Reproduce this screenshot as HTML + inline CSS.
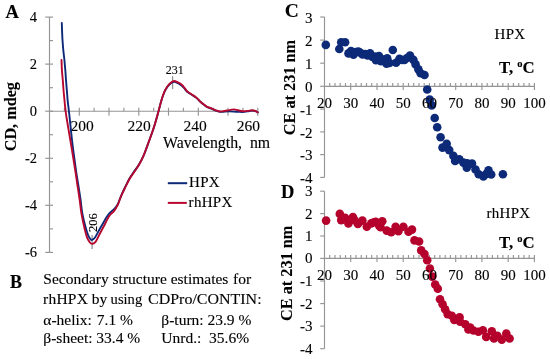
<!DOCTYPE html>
<html><head><meta charset="utf-8"><title>Figure</title>
<style>
html,body{margin:0;padding:0;background:#fff;}
body{width:550px;height:359px;overflow:hidden;}
svg{display:block;}
text{font-family:"Liberation Serif", "Times New Roman", serif;fill:#000;stroke:#000;stroke-width:0.12px;}
.t15{font-size:15px;}
.t155{font-size:15.5px;}
.t14{font-size:14px;}
.t13{font-size:13px;}
.t12{font-size:12.5px;}
.t12b{font-size:12px;}
.b15{font-size:15px;font-weight:bold;}
.b16{font-size:16px;font-weight:bold;}
.b165{font-size:16.5px;font-weight:bold;}
.b175{font-size:17.5px;font-weight:bold;}
.b19{font-size:18.5px;font-weight:bold;}
.b185{font-size:18.5px;font-weight:bold;}
.b195{font-size:19.5px;font-weight:bold;}
.b18{font-size:18px;font-weight:bold;}
.b17{font-size:17px;font-weight:bold;}
.b163{font-size:16.3px;font-weight:bold;}
.t16{font-size:16px;}
.t145{font-size:14.5px;}
.b157{font-size:15.7px;font-weight:bold;}
.t158{font-size:15.8px;}
.b162{font-size:16.2px;font-weight:bold;}
.sup{font-size:10.5px;}
.b168{font-size:16.8px;font-weight:bold;}
</style></head>
<body>
<svg width="550" height="359" viewBox="0 0 550 359">
<rect width="550" height="359" fill="#fff"/>
<line x1="49.5" y1="17.1" x2="49.5" y2="252.4" stroke="#959595" stroke-width="1.15"/>
<line x1="45.2" y1="252.4" x2="53.0" y2="252.4" stroke="#959595" stroke-width="1.15"/>
<text x="37.1" y="257.1" text-anchor="end" class="t145">-6</text>
<line x1="49.5" y1="228.9" x2="53.0" y2="228.9" stroke="#959595" stroke-width="1.15"/>
<line x1="45.2" y1="205.3" x2="53.0" y2="205.3" stroke="#959595" stroke-width="1.15"/>
<text x="37.1" y="210.0" text-anchor="end" class="t145">-4</text>
<line x1="49.5" y1="181.8" x2="53.0" y2="181.8" stroke="#959595" stroke-width="1.15"/>
<line x1="45.2" y1="158.3" x2="53.0" y2="158.3" stroke="#959595" stroke-width="1.15"/>
<text x="37.1" y="163.0" text-anchor="end" class="t145">-2</text>
<line x1="49.5" y1="134.7" x2="53.0" y2="134.7" stroke="#959595" stroke-width="1.15"/>
<line x1="45.2" y1="111.2" x2="53.0" y2="111.2" stroke="#959595" stroke-width="1.15"/>
<text x="37.1" y="115.9" text-anchor="end" class="t145">0</text>
<line x1="49.5" y1="87.7" x2="53.0" y2="87.7" stroke="#959595" stroke-width="1.15"/>
<line x1="45.2" y1="64.1" x2="53.0" y2="64.1" stroke="#959595" stroke-width="1.15"/>
<text x="37.1" y="68.8" text-anchor="end" class="t145">2</text>
<line x1="49.5" y1="40.6" x2="53.0" y2="40.6" stroke="#959595" stroke-width="1.15"/>
<line x1="45.2" y1="17.1" x2="53.0" y2="17.1" stroke="#959595" stroke-width="1.15"/>
<text x="37.1" y="21.8" text-anchor="end" class="t145">4</text>
<line x1="49.5" y1="111.2" x2="257.8" y2="111.2" stroke="#959595" stroke-width="1.15"/>
<line x1="64.4" y1="107.7" x2="64.4" y2="111.2" stroke="#959595" stroke-width="1.15"/>
<line x1="79.3" y1="107.7" x2="79.3" y2="115.7" stroke="#959595" stroke-width="1.15"/>
<line x1="94.1" y1="107.7" x2="94.1" y2="111.2" stroke="#959595" stroke-width="1.15"/>
<line x1="109.0" y1="107.7" x2="109.0" y2="115.7" stroke="#959595" stroke-width="1.15"/>
<line x1="123.9" y1="107.7" x2="123.9" y2="111.2" stroke="#959595" stroke-width="1.15"/>
<line x1="138.8" y1="107.7" x2="138.8" y2="115.7" stroke="#959595" stroke-width="1.15"/>
<line x1="153.7" y1="107.7" x2="153.7" y2="111.2" stroke="#959595" stroke-width="1.15"/>
<line x1="168.5" y1="107.7" x2="168.5" y2="115.7" stroke="#959595" stroke-width="1.15"/>
<line x1="183.4" y1="107.7" x2="183.4" y2="111.2" stroke="#959595" stroke-width="1.15"/>
<line x1="198.3" y1="107.7" x2="198.3" y2="115.7" stroke="#959595" stroke-width="1.15"/>
<line x1="213.2" y1="107.7" x2="213.2" y2="111.2" stroke="#959595" stroke-width="1.15"/>
<line x1="228.0" y1="107.7" x2="228.0" y2="115.7" stroke="#959595" stroke-width="1.15"/>
<line x1="242.9" y1="107.7" x2="242.9" y2="111.2" stroke="#959595" stroke-width="1.15"/>
<line x1="257.8" y1="107.7" x2="257.8" y2="115.7" stroke="#959595" stroke-width="1.15"/>
<text x="82.1" y="131.3" text-anchor="middle" class="t155">200</text>
<text x="139.1" y="131.3" text-anchor="middle" class="t155">220</text>
<text x="195.2" y="131.3" text-anchor="middle" class="t155">240</text>
<text x="248.3" y="131.3" text-anchor="middle" class="t155">260</text>
<text x="163" y="147.7" class="t158">Wavelength,&#160; nm</text>
<text transform="translate(15.6,151.3) rotate(-90)" class="b162">CD, mdeg</text>
<text x="5.5" y="18" class="b19">A</text>
<line x1="172.6" y1="76.1" x2="172.6" y2="89.1" stroke="#959595" stroke-width="1.3"/>
<text x="174.7" y="73.9" text-anchor="middle" class="t12b">231</text>
<line x1="92.1" y1="235" x2="92.1" y2="249" stroke="#959595" stroke-width="1.3"/>
<text transform="translate(96.7,232.0) rotate(-90)" class="t12">206</text>
<path d="M61.8,23.0 C61.9,25.8 62.2,35.5 62.5,40.0 C62.8,44.5 63.0,46.7 63.3,50.0 C63.6,53.3 64.1,56.7 64.4,60.0 C64.7,63.3 65.0,66.7 65.3,70.0 C65.6,73.3 65.7,76.3 66.0,80.0 C66.3,83.7 66.7,88.7 67.0,92.0 C67.3,95.3 67.3,96.8 67.6,100.0 C67.9,103.2 68.4,106.8 68.9,111.0 C69.4,115.2 69.9,120.2 70.4,125.0 C70.9,129.8 71.4,135.0 72.0,140.0 C72.6,145.0 73.2,150.0 73.9,155.0 C74.6,160.0 75.2,165.0 75.9,170.0 C76.6,175.0 77.5,180.0 78.3,185.0 C79.1,190.0 79.9,195.2 80.6,200.0 C81.3,204.8 81.5,209.3 82.4,214.0 C83.3,218.7 84.8,224.4 85.8,228.0 C86.8,231.6 87.6,234.0 88.4,235.8 C89.2,237.6 89.8,238.3 90.4,239.0 C91.0,239.7 91.3,240.1 92.0,239.9 C92.7,239.7 93.6,239.5 94.8,237.8 C96.0,236.2 97.8,232.4 99.2,230.0 C100.6,227.6 101.7,225.6 102.9,223.5 C104.1,221.4 105.3,219.1 106.5,217.3 C107.7,215.5 108.8,214.0 110.0,212.7 C111.2,211.4 112.8,210.4 113.8,209.4 C114.8,208.4 115.6,207.5 116.3,206.5 C117.0,205.5 117.4,205.1 118.2,203.3 C119.0,201.5 120.1,198.2 121.2,195.6 C122.3,193.0 123.3,190.8 124.7,188.0 C126.1,185.2 127.9,181.3 129.5,178.5 C131.1,175.7 132.6,173.7 134.2,171.4 C135.8,169.1 137.4,167.2 139.0,164.5 C140.6,161.8 142.3,158.4 143.7,155.3 C145.1,152.2 146.1,149.0 147.3,145.8 C148.5,142.6 149.6,139.7 150.8,136.3 C152.0,133.0 153.2,129.5 154.4,125.7 C155.6,121.9 156.8,117.5 157.9,113.5 C159.0,109.5 160.1,105.1 161.1,101.6 C162.1,98.1 163.2,94.9 164.2,92.5 C165.2,90.1 166.2,88.6 167.3,87.0 C168.5,85.4 169.9,84.0 171.1,83.1 C172.2,82.2 173.0,81.7 174.2,81.7 C175.3,81.7 176.7,82.5 178.0,83.2 C179.3,83.9 180.7,84.8 181.8,85.8 C183.0,86.8 184.0,88.0 184.9,89.0 C185.8,90.0 186.0,90.8 187.2,91.8 C188.3,92.8 190.3,93.8 191.8,94.8 C193.3,95.8 194.9,96.6 196.4,97.9 C197.9,99.2 199.8,101.3 201.0,102.4 C202.2,103.5 202.4,103.5 203.4,104.3 C204.4,105.0 205.5,106.2 206.8,106.9 C208.1,107.6 209.8,108.0 211.3,108.6 C212.8,109.2 214.3,110.0 215.8,110.5 C217.3,111.0 218.8,111.6 220.3,111.8 C221.8,112.0 223.3,111.7 224.8,111.6 C226.3,111.5 227.8,111.4 229.3,111.4 C230.8,111.4 232.3,111.5 233.8,111.6 C235.3,111.7 236.8,111.7 238.3,111.8 C239.8,111.9 241.3,112.1 242.8,112.0 C244.3,111.9 245.9,111.6 247.4,111.4 C248.9,111.2 250.6,110.7 251.9,110.6 C253.2,110.5 254.2,110.7 255.2,111.0 C256.2,111.3 257.3,112.1 257.7,112.3" fill="none" stroke="#0c2a78" stroke-width="1.9" stroke-linejoin="round" stroke-linecap="round"/>
<path d="M61.5,60.0 C61.6,61.7 61.7,66.7 61.9,70.0 C62.1,73.3 62.5,76.3 62.8,80.0 C63.1,83.7 63.2,86.8 63.7,92.0 C64.2,97.2 65.0,106.0 65.6,111.0 C66.2,116.0 66.8,118.7 67.3,122.0 C67.8,125.3 68.3,128.0 68.8,131.0 C69.3,134.0 69.6,136.0 70.3,140.0 C71.0,144.0 72.0,150.0 72.8,155.0 C73.6,160.0 74.4,165.0 75.2,170.0 C76.0,175.0 76.7,180.0 77.4,185.0 C78.2,190.0 79.0,195.2 79.7,200.0 C80.4,204.8 80.7,209.2 81.5,213.9 C82.3,218.6 83.5,224.0 84.4,227.9 C85.3,231.8 86.2,235.2 87.1,237.6 C88.0,240.0 89.1,241.4 89.9,242.5 C90.7,243.6 91.1,244.0 92.0,243.9 C92.9,243.8 94.2,243.5 95.5,241.8 C96.8,240.2 98.3,236.6 99.7,234.0 C101.1,231.4 102.6,228.6 103.8,226.3 C105.0,224.0 105.9,222.0 106.9,220.1 C107.9,218.2 108.8,216.5 110.0,215.0 C111.2,213.5 112.8,212.6 113.8,211.3 C114.8,210.1 115.6,208.8 116.3,207.5 C117.0,206.2 117.4,205.7 118.2,203.8 C119.0,201.9 120.1,198.6 121.2,196.0 C122.3,193.4 123.3,191.3 124.7,188.5 C126.1,185.7 127.9,181.8 129.5,179.0 C131.1,176.2 132.6,174.3 134.2,171.9 C135.8,169.5 137.4,167.6 139.0,164.8 C140.6,162.0 142.3,158.5 143.7,155.3 C145.1,152.1 146.1,149.0 147.3,145.8 C148.5,142.6 149.6,139.7 150.8,136.3 C152.0,133.0 153.2,129.5 154.4,125.7 C155.6,121.9 156.8,117.5 157.9,113.5 C159.0,109.5 160.1,105.0 161.1,101.4 C162.1,97.9 163.2,94.7 164.2,92.2 C165.2,89.7 166.2,88.1 167.3,86.5 C168.5,84.9 169.9,83.4 171.1,82.5 C172.2,81.6 173.0,81.0 174.2,81.0 C175.3,81.0 176.7,81.8 178.0,82.4 C179.3,83.0 180.7,83.8 181.8,84.8 C183.0,85.8 184.0,87.3 184.9,88.4 C185.8,89.5 186.0,90.4 187.2,91.4 C188.3,92.4 190.3,93.5 191.8,94.5 C193.3,95.5 194.9,96.3 196.4,97.6 C197.9,98.9 199.8,101.1 201.0,102.2 C202.2,103.3 202.4,103.3 203.4,104.1 C204.4,104.8 205.5,106.0 206.8,106.7 C208.1,107.4 209.8,107.8 211.3,108.4 C212.8,109.0 214.3,109.8 215.8,110.3 C217.3,110.8 218.8,111.5 220.3,111.6 C221.8,111.7 223.3,111.2 224.8,110.9 C226.3,110.7 227.8,110.3 229.3,110.1 C230.8,109.8 232.3,109.4 233.8,109.4 C235.3,109.4 236.8,110.0 238.3,110.3 C239.8,110.6 241.3,111.1 242.8,111.2 C244.3,111.3 245.9,111.1 247.4,110.9 C248.9,110.8 250.6,110.3 251.9,110.3 C253.2,110.3 254.2,110.6 255.2,110.9 C256.2,111.2 257.3,112.1 257.7,112.3" fill="none" stroke="#b8072f" stroke-width="1.9" stroke-linejoin="round" stroke-linecap="round"/>
<line x1="167.8" y1="183.2" x2="187.2" y2="183.2" stroke="#0c2a78" stroke-width="2"/>
<line x1="167.8" y1="202.9" x2="186.8" y2="202.9" stroke="#b8072f" stroke-width="2"/>
<text x="189.0" y="186.8" class="t15" letter-spacing="0.3">HPX</text>
<text x="188.6" y="206.5" class="t15" letter-spacing="0.3">rhHPX</text>
<text x="10" y="287.5" class="b18">B</text>
<text x="43.3" y="283.9" class="t155">Secondary structure estimates</text>
<text x="233.1" y="283.9" class="t155">for</text>
<text x="43.0" y="303.6" class="t155" letter-spacing="0.25">rhHPX</text>
<text x="91.8" y="303.6" class="t155">by</text>
<text x="110.6" y="303.6" class="t155" textLength="31.6" lengthAdjust="spacingAndGlyphs">using</text>
<text x="148.0" y="303.6" class="t155" textLength="113.6" lengthAdjust="spacingAndGlyphs">CDPro/CONTIN:</text>
<text x="43.3" y="325.0" class="t155">&#945;-helix:</text>
<text x="96.8" y="325.0" class="t155">7.1 %</text>
<text x="43.3" y="343.4" class="t155">&#946;-sheet: 33.4 %</text>
<text x="161.3" y="325.0" class="t155">&#946;-turn: 23.9 %</text>
<text x="161.3" y="343.4" class="t155">Unrd.:&#160; 35.6%</text>
<line x1="324.5" y1="17.0" x2="324.5" y2="177.4" stroke="#959595" stroke-width="1.15"/>
<line x1="320.2" y1="17.0" x2="324.5" y2="17.0" stroke="#959595" stroke-width="1.15"/>
<text x="312.5" y="22.6" text-anchor="end" class="t15">3</text>
<line x1="320.2" y1="40.1" x2="324.5" y2="40.1" stroke="#959595" stroke-width="1.15"/>
<text x="312.5" y="45.7" text-anchor="end" class="t15">2</text>
<line x1="320.2" y1="63.2" x2="324.5" y2="63.2" stroke="#959595" stroke-width="1.15"/>
<text x="312.5" y="68.8" text-anchor="end" class="t15">1</text>
<line x1="320.2" y1="86.3" x2="324.5" y2="86.3" stroke="#959595" stroke-width="1.15"/>
<text x="312.5" y="91.9" text-anchor="end" class="t15">0</text>
<line x1="320.2" y1="109.1" x2="324.5" y2="109.1" stroke="#959595" stroke-width="1.15"/>
<text x="312.5" y="114.7" text-anchor="end" class="t15">-1</text>
<line x1="320.2" y1="131.9" x2="324.5" y2="131.9" stroke="#959595" stroke-width="1.15"/>
<text x="312.5" y="137.5" text-anchor="end" class="t15">-2</text>
<line x1="320.2" y1="154.6" x2="324.5" y2="154.6" stroke="#959595" stroke-width="1.15"/>
<text x="312.5" y="160.2" text-anchor="end" class="t15">-3</text>
<line x1="320.2" y1="177.4" x2="324.5" y2="177.4" stroke="#959595" stroke-width="1.15"/>
<text x="312.5" y="183.0" text-anchor="end" class="t15">-4</text>
<line x1="324.5" y1="86.3" x2="534.4" y2="86.3" stroke="#959595" stroke-width="1.15"/>
<line x1="329.7" y1="83.0" x2="329.7" y2="86.3" stroke="#959595" stroke-width="1.15"/>
<line x1="335.0" y1="83.0" x2="335.0" y2="86.3" stroke="#959595" stroke-width="1.15"/>
<line x1="340.2" y1="83.0" x2="340.2" y2="86.3" stroke="#959595" stroke-width="1.15"/>
<line x1="345.5" y1="83.0" x2="345.5" y2="86.3" stroke="#959595" stroke-width="1.15"/>
<line x1="350.7" y1="83.0" x2="350.7" y2="89.9" stroke="#959595" stroke-width="1.15"/>
<line x1="356.0" y1="83.0" x2="356.0" y2="86.3" stroke="#959595" stroke-width="1.15"/>
<line x1="361.2" y1="83.0" x2="361.2" y2="86.3" stroke="#959595" stroke-width="1.15"/>
<line x1="366.5" y1="83.0" x2="366.5" y2="86.3" stroke="#959595" stroke-width="1.15"/>
<line x1="371.7" y1="83.0" x2="371.7" y2="86.3" stroke="#959595" stroke-width="1.15"/>
<line x1="377.0" y1="83.0" x2="377.0" y2="89.9" stroke="#959595" stroke-width="1.15"/>
<line x1="382.2" y1="83.0" x2="382.2" y2="86.3" stroke="#959595" stroke-width="1.15"/>
<line x1="387.5" y1="83.0" x2="387.5" y2="86.3" stroke="#959595" stroke-width="1.15"/>
<line x1="392.7" y1="83.0" x2="392.7" y2="86.3" stroke="#959595" stroke-width="1.15"/>
<line x1="398.0" y1="83.0" x2="398.0" y2="86.3" stroke="#959595" stroke-width="1.15"/>
<line x1="403.2" y1="83.0" x2="403.2" y2="89.9" stroke="#959595" stroke-width="1.15"/>
<line x1="408.5" y1="83.0" x2="408.5" y2="86.3" stroke="#959595" stroke-width="1.15"/>
<line x1="413.7" y1="83.0" x2="413.7" y2="86.3" stroke="#959595" stroke-width="1.15"/>
<line x1="419.0" y1="83.0" x2="419.0" y2="86.3" stroke="#959595" stroke-width="1.15"/>
<line x1="424.2" y1="83.0" x2="424.2" y2="86.3" stroke="#959595" stroke-width="1.15"/>
<line x1="429.4" y1="83.0" x2="429.4" y2="89.9" stroke="#959595" stroke-width="1.15"/>
<line x1="434.7" y1="83.0" x2="434.7" y2="86.3" stroke="#959595" stroke-width="1.15"/>
<line x1="439.9" y1="83.0" x2="439.9" y2="86.3" stroke="#959595" stroke-width="1.15"/>
<line x1="445.2" y1="83.0" x2="445.2" y2="86.3" stroke="#959595" stroke-width="1.15"/>
<line x1="450.4" y1="83.0" x2="450.4" y2="86.3" stroke="#959595" stroke-width="1.15"/>
<line x1="455.7" y1="83.0" x2="455.7" y2="89.9" stroke="#959595" stroke-width="1.15"/>
<line x1="460.9" y1="83.0" x2="460.9" y2="86.3" stroke="#959595" stroke-width="1.15"/>
<line x1="466.2" y1="83.0" x2="466.2" y2="86.3" stroke="#959595" stroke-width="1.15"/>
<line x1="471.4" y1="83.0" x2="471.4" y2="86.3" stroke="#959595" stroke-width="1.15"/>
<line x1="476.7" y1="83.0" x2="476.7" y2="86.3" stroke="#959595" stroke-width="1.15"/>
<line x1="481.9" y1="83.0" x2="481.9" y2="89.9" stroke="#959595" stroke-width="1.15"/>
<line x1="487.2" y1="83.0" x2="487.2" y2="86.3" stroke="#959595" stroke-width="1.15"/>
<line x1="492.4" y1="83.0" x2="492.4" y2="86.3" stroke="#959595" stroke-width="1.15"/>
<line x1="497.7" y1="83.0" x2="497.7" y2="86.3" stroke="#959595" stroke-width="1.15"/>
<line x1="502.9" y1="83.0" x2="502.9" y2="86.3" stroke="#959595" stroke-width="1.15"/>
<line x1="508.2" y1="83.0" x2="508.2" y2="89.9" stroke="#959595" stroke-width="1.15"/>
<line x1="513.4" y1="83.0" x2="513.4" y2="86.3" stroke="#959595" stroke-width="1.15"/>
<line x1="518.7" y1="83.0" x2="518.7" y2="86.3" stroke="#959595" stroke-width="1.15"/>
<line x1="523.9" y1="83.0" x2="523.9" y2="86.3" stroke="#959595" stroke-width="1.15"/>
<line x1="529.2" y1="83.0" x2="529.2" y2="86.3" stroke="#959595" stroke-width="1.15"/>
<line x1="534.4" y1="83.0" x2="534.4" y2="89.9" stroke="#959595" stroke-width="1.15"/>
<circle cx="325.8" cy="44.9" r="4.3" fill="#0c2a78"/>
<circle cx="339.3" cy="49.0" r="4.3" fill="#0c2a78"/>
<circle cx="341.2" cy="42.2" r="4.3" fill="#0c2a78"/>
<circle cx="345.1" cy="42.2" r="4.3" fill="#0c2a78"/>
<circle cx="348.5" cy="53.4" r="4.3" fill="#0c2a78"/>
<circle cx="351.0" cy="51.0" r="4.3" fill="#0c2a78"/>
<circle cx="353.5" cy="54.7" r="4.3" fill="#0c2a78"/>
<circle cx="356.0" cy="52.0" r="4.3" fill="#0c2a78"/>
<circle cx="358.3" cy="51.5" r="4.3" fill="#0c2a78"/>
<circle cx="360.0" cy="52.5" r="4.3" fill="#0c2a78"/>
<circle cx="362.5" cy="54.5" r="4.3" fill="#0c2a78"/>
<circle cx="365.0" cy="54.0" r="4.3" fill="#0c2a78"/>
<circle cx="367.5" cy="55.5" r="4.3" fill="#0c2a78"/>
<circle cx="370.0" cy="54.5" r="4.3" fill="#0c2a78"/>
<circle cx="372.5" cy="57.0" r="4.3" fill="#0c2a78"/>
<circle cx="375.0" cy="56.5" r="4.3" fill="#0c2a78"/>
<circle cx="378.0" cy="57.5" r="4.3" fill="#0c2a78"/>
<circle cx="380.5" cy="59.0" r="4.3" fill="#0c2a78"/>
<circle cx="383.0" cy="59.5" r="4.3" fill="#0c2a78"/>
<circle cx="386.0" cy="59.5" r="4.3" fill="#0c2a78"/>
<circle cx="387.2" cy="58.4" r="4.3" fill="#0c2a78"/>
<circle cx="389.5" cy="63.0" r="4.3" fill="#0c2a78"/>
<circle cx="376.0" cy="60.3" r="4.3" fill="#0c2a78"/>
<circle cx="381.0" cy="61.3" r="4.3" fill="#0c2a78"/>
<circle cx="386.5" cy="63.6" r="4.3" fill="#0c2a78"/>
<circle cx="370.0" cy="53.3" r="4.3" fill="#0c2a78"/>
<circle cx="379.0" cy="56.0" r="4.3" fill="#0c2a78"/>
<circle cx="392.8" cy="50.0" r="4.3" fill="#0c2a78"/>
<circle cx="396.1" cy="62.7" r="4.3" fill="#0c2a78"/>
<circle cx="399.5" cy="58.8" r="4.3" fill="#0c2a78"/>
<circle cx="402.0" cy="60.0" r="4.3" fill="#0c2a78"/>
<circle cx="404.5" cy="59.9" r="4.3" fill="#0c2a78"/>
<circle cx="407.0" cy="58.0" r="4.3" fill="#0c2a78"/>
<circle cx="410.0" cy="55.5" r="4.3" fill="#0c2a78"/>
<circle cx="413.4" cy="59.9" r="4.3" fill="#0c2a78"/>
<circle cx="415.6" cy="64.4" r="4.3" fill="#0c2a78"/>
<circle cx="418.4" cy="69.4" r="4.3" fill="#0c2a78"/>
<circle cx="420.6" cy="73.3" r="4.3" fill="#0c2a78"/>
<circle cx="424.5" cy="75.0" r="4.3" fill="#0c2a78"/>
<circle cx="427.2" cy="89.5" r="4.3" fill="#0c2a78"/>
<circle cx="429.7" cy="99.6" r="4.3" fill="#0c2a78"/>
<circle cx="431.7" cy="105.4" r="4.3" fill="#0c2a78"/>
<circle cx="434.7" cy="118.0" r="4.3" fill="#0c2a78"/>
<circle cx="437.2" cy="127.2" r="4.3" fill="#0c2a78"/>
<circle cx="440.6" cy="137.2" r="4.3" fill="#0c2a78"/>
<circle cx="442.5" cy="147.6" r="4.3" fill="#0c2a78"/>
<circle cx="446.7" cy="143.7" r="4.3" fill="#0c2a78"/>
<circle cx="449.2" cy="150.1" r="4.3" fill="#0c2a78"/>
<circle cx="453.4" cy="155.9" r="4.3" fill="#0c2a78"/>
<circle cx="455.1" cy="161.0" r="4.3" fill="#0c2a78"/>
<circle cx="459.3" cy="159.3" r="4.3" fill="#0c2a78"/>
<circle cx="463.4" cy="162.6" r="4.3" fill="#0c2a78"/>
<circle cx="466.8" cy="167.6" r="4.3" fill="#0c2a78"/>
<circle cx="467.2" cy="163.4" r="4.3" fill="#0c2a78"/>
<circle cx="472.0" cy="163.6" r="4.3" fill="#0c2a78"/>
<circle cx="475.5" cy="169.5" r="4.3" fill="#0c2a78"/>
<circle cx="478.7" cy="174.2" r="4.3" fill="#0c2a78"/>
<circle cx="483.4" cy="176.4" r="4.3" fill="#0c2a78"/>
<circle cx="486.2" cy="174.0" r="4.3" fill="#0c2a78"/>
<circle cx="488.5" cy="170.4" r="4.3" fill="#0c2a78"/>
<circle cx="491.2" cy="174.5" r="4.3" fill="#0c2a78"/>
<circle cx="502.9" cy="174.2" r="4.3" fill="#0c2a78"/>
<text x="324.5" y="107.9" text-anchor="middle" class="t15">20</text>
<text x="350.7" y="107.9" text-anchor="middle" class="t15">30</text>
<text x="377.0" y="107.9" text-anchor="middle" class="t15">40</text>
<text x="403.2" y="107.9" text-anchor="middle" class="t15">50</text>
<text x="429.4" y="107.9" text-anchor="middle" class="t15">60</text>
<text x="455.7" y="107.9" text-anchor="middle" class="t15">70</text>
<text x="481.9" y="107.9" text-anchor="middle" class="t15">80</text>
<text x="508.2" y="107.9" text-anchor="middle" class="t15">90</text>
<text x="534.4" y="107.9" text-anchor="middle" class="t15">100</text>
<text x="284.8" y="17.0" class="b195">C</text>
<text x="494.5" y="38.7" class="t15" letter-spacing="0.30">HPX</text>
<text x="499.0" y="73.4" class="b168">T, <tspan class="sup" dy="-6">o</tspan><tspan dy="6">C</tspan></text>
<text transform="translate(295,135.3) rotate(-90)" class="b163">CE at 231 nm</text>
<line x1="324.5" y1="191.2" x2="324.5" y2="348.7" stroke="#959595" stroke-width="1.15"/>
<line x1="320.2" y1="191.2" x2="324.5" y2="191.2" stroke="#959595" stroke-width="1.15"/>
<text x="312.5" y="196.2" text-anchor="end" class="t15">3</text>
<line x1="320.2" y1="213.6" x2="324.5" y2="213.6" stroke="#959595" stroke-width="1.15"/>
<text x="312.5" y="218.6" text-anchor="end" class="t15">2</text>
<line x1="320.2" y1="236.0" x2="324.5" y2="236.0" stroke="#959595" stroke-width="1.15"/>
<text x="312.5" y="241.0" text-anchor="end" class="t15">1</text>
<line x1="320.2" y1="258.4" x2="324.5" y2="258.4" stroke="#959595" stroke-width="1.15"/>
<text x="312.5" y="263.4" text-anchor="end" class="t15">0</text>
<line x1="320.2" y1="281.0" x2="324.5" y2="281.0" stroke="#959595" stroke-width="1.15"/>
<text x="312.5" y="286.0" text-anchor="end" class="t15">-1</text>
<line x1="320.2" y1="303.6" x2="324.5" y2="303.6" stroke="#959595" stroke-width="1.15"/>
<text x="312.5" y="308.6" text-anchor="end" class="t15">-2</text>
<line x1="320.2" y1="326.1" x2="324.5" y2="326.1" stroke="#959595" stroke-width="1.15"/>
<text x="312.5" y="331.1" text-anchor="end" class="t15">-3</text>
<line x1="320.2" y1="348.7" x2="324.5" y2="348.7" stroke="#959595" stroke-width="1.15"/>
<text x="312.5" y="353.7" text-anchor="end" class="t15">-4</text>
<line x1="324.5" y1="258.4" x2="534.4" y2="258.4" stroke="#959595" stroke-width="1.15"/>
<line x1="329.7" y1="255.1" x2="329.7" y2="258.4" stroke="#959595" stroke-width="1.15"/>
<line x1="335.0" y1="255.1" x2="335.0" y2="258.4" stroke="#959595" stroke-width="1.15"/>
<line x1="340.2" y1="255.1" x2="340.2" y2="258.4" stroke="#959595" stroke-width="1.15"/>
<line x1="345.5" y1="255.1" x2="345.5" y2="258.4" stroke="#959595" stroke-width="1.15"/>
<line x1="350.7" y1="255.1" x2="350.7" y2="262.0" stroke="#959595" stroke-width="1.15"/>
<line x1="356.0" y1="255.1" x2="356.0" y2="258.4" stroke="#959595" stroke-width="1.15"/>
<line x1="361.2" y1="255.1" x2="361.2" y2="258.4" stroke="#959595" stroke-width="1.15"/>
<line x1="366.5" y1="255.1" x2="366.5" y2="258.4" stroke="#959595" stroke-width="1.15"/>
<line x1="371.7" y1="255.1" x2="371.7" y2="258.4" stroke="#959595" stroke-width="1.15"/>
<line x1="377.0" y1="255.1" x2="377.0" y2="262.0" stroke="#959595" stroke-width="1.15"/>
<line x1="382.2" y1="255.1" x2="382.2" y2="258.4" stroke="#959595" stroke-width="1.15"/>
<line x1="387.5" y1="255.1" x2="387.5" y2="258.4" stroke="#959595" stroke-width="1.15"/>
<line x1="392.7" y1="255.1" x2="392.7" y2="258.4" stroke="#959595" stroke-width="1.15"/>
<line x1="398.0" y1="255.1" x2="398.0" y2="258.4" stroke="#959595" stroke-width="1.15"/>
<line x1="403.2" y1="255.1" x2="403.2" y2="262.0" stroke="#959595" stroke-width="1.15"/>
<line x1="408.5" y1="255.1" x2="408.5" y2="258.4" stroke="#959595" stroke-width="1.15"/>
<line x1="413.7" y1="255.1" x2="413.7" y2="258.4" stroke="#959595" stroke-width="1.15"/>
<line x1="419.0" y1="255.1" x2="419.0" y2="258.4" stroke="#959595" stroke-width="1.15"/>
<line x1="424.2" y1="255.1" x2="424.2" y2="258.4" stroke="#959595" stroke-width="1.15"/>
<line x1="429.4" y1="255.1" x2="429.4" y2="262.0" stroke="#959595" stroke-width="1.15"/>
<line x1="434.7" y1="255.1" x2="434.7" y2="258.4" stroke="#959595" stroke-width="1.15"/>
<line x1="439.9" y1="255.1" x2="439.9" y2="258.4" stroke="#959595" stroke-width="1.15"/>
<line x1="445.2" y1="255.1" x2="445.2" y2="258.4" stroke="#959595" stroke-width="1.15"/>
<line x1="450.4" y1="255.1" x2="450.4" y2="258.4" stroke="#959595" stroke-width="1.15"/>
<line x1="455.7" y1="255.1" x2="455.7" y2="262.0" stroke="#959595" stroke-width="1.15"/>
<line x1="460.9" y1="255.1" x2="460.9" y2="258.4" stroke="#959595" stroke-width="1.15"/>
<line x1="466.2" y1="255.1" x2="466.2" y2="258.4" stroke="#959595" stroke-width="1.15"/>
<line x1="471.4" y1="255.1" x2="471.4" y2="258.4" stroke="#959595" stroke-width="1.15"/>
<line x1="476.7" y1="255.1" x2="476.7" y2="258.4" stroke="#959595" stroke-width="1.15"/>
<line x1="481.9" y1="255.1" x2="481.9" y2="262.0" stroke="#959595" stroke-width="1.15"/>
<line x1="487.2" y1="255.1" x2="487.2" y2="258.4" stroke="#959595" stroke-width="1.15"/>
<line x1="492.4" y1="255.1" x2="492.4" y2="258.4" stroke="#959595" stroke-width="1.15"/>
<line x1="497.7" y1="255.1" x2="497.7" y2="258.4" stroke="#959595" stroke-width="1.15"/>
<line x1="502.9" y1="255.1" x2="502.9" y2="258.4" stroke="#959595" stroke-width="1.15"/>
<line x1="508.2" y1="255.1" x2="508.2" y2="262.0" stroke="#959595" stroke-width="1.15"/>
<line x1="513.4" y1="255.1" x2="513.4" y2="258.4" stroke="#959595" stroke-width="1.15"/>
<line x1="518.7" y1="255.1" x2="518.7" y2="258.4" stroke="#959595" stroke-width="1.15"/>
<line x1="523.9" y1="255.1" x2="523.9" y2="258.4" stroke="#959595" stroke-width="1.15"/>
<line x1="529.2" y1="255.1" x2="529.2" y2="258.4" stroke="#959595" stroke-width="1.15"/>
<line x1="534.4" y1="255.1" x2="534.4" y2="262.0" stroke="#959595" stroke-width="1.15"/>
<circle cx="326.1" cy="220.6" r="4.3" fill="#b5022c"/>
<circle cx="339.8" cy="213.9" r="4.3" fill="#b5022c"/>
<circle cx="341.2" cy="220.1" r="4.3" fill="#b5022c"/>
<circle cx="345.1" cy="217.8" r="4.3" fill="#b5022c"/>
<circle cx="348.4" cy="223.4" r="4.3" fill="#b5022c"/>
<circle cx="352.9" cy="217.0" r="4.3" fill="#b5022c"/>
<circle cx="354.6" cy="220.1" r="4.3" fill="#b5022c"/>
<circle cx="357.9" cy="224.0" r="4.3" fill="#b5022c"/>
<circle cx="362.4" cy="220.6" r="4.3" fill="#b5022c"/>
<circle cx="366.8" cy="226.8" r="4.3" fill="#b5022c"/>
<circle cx="371.3" cy="223.4" r="4.3" fill="#b5022c"/>
<circle cx="373.9" cy="222.3" r="4.3" fill="#b5022c"/>
<circle cx="375.7" cy="221.7" r="4.3" fill="#b5022c"/>
<circle cx="379.1" cy="225.6" r="4.3" fill="#b5022c"/>
<circle cx="380.6" cy="227.3" r="4.3" fill="#b5022c"/>
<circle cx="382.3" cy="221.2" r="4.3" fill="#b5022c"/>
<circle cx="386.7" cy="230.6" r="4.3" fill="#b5022c"/>
<circle cx="391.2" cy="232.3" r="4.3" fill="#b5022c"/>
<circle cx="395.6" cy="226.7" r="4.3" fill="#b5022c"/>
<circle cx="398.4" cy="231.2" r="4.3" fill="#b5022c"/>
<circle cx="403.4" cy="226.7" r="4.3" fill="#b5022c"/>
<circle cx="408.5" cy="231.8" r="4.3" fill="#b5022c"/>
<circle cx="412.0" cy="229.6" r="4.3" fill="#b5022c"/>
<circle cx="414.5" cy="240.4" r="4.3" fill="#b5022c"/>
<circle cx="419.1" cy="241.5" r="4.3" fill="#b5022c"/>
<circle cx="421.2" cy="250.4" r="4.3" fill="#b5022c"/>
<circle cx="424.5" cy="254.0" r="4.3" fill="#b5022c"/>
<circle cx="427.2" cy="260.3" r="4.3" fill="#b5022c"/>
<circle cx="429.9" cy="268.5" r="4.3" fill="#b5022c"/>
<circle cx="432.2" cy="276.6" r="4.3" fill="#b5022c"/>
<circle cx="435.2" cy="284.5" r="4.3" fill="#b5022c"/>
<circle cx="437.8" cy="288.8" r="4.3" fill="#b5022c"/>
<circle cx="440.0" cy="299.3" r="4.3" fill="#b5022c"/>
<circle cx="442.6" cy="304.3" r="4.3" fill="#b5022c"/>
<circle cx="445.1" cy="309.3" r="4.3" fill="#b5022c"/>
<circle cx="447.6" cy="314.1" r="4.3" fill="#b5022c"/>
<circle cx="451.8" cy="315.8" r="4.3" fill="#b5022c"/>
<circle cx="454.3" cy="320.0" r="4.3" fill="#b5022c"/>
<circle cx="459.6" cy="317.3" r="4.3" fill="#b5022c"/>
<circle cx="460.1" cy="321.7" r="4.3" fill="#b5022c"/>
<circle cx="465.3" cy="324.2" r="4.3" fill="#b5022c"/>
<circle cx="468.4" cy="329.4" r="4.3" fill="#b5022c"/>
<circle cx="470.2" cy="327.5" r="4.3" fill="#b5022c"/>
<circle cx="473.4" cy="330.5" r="4.3" fill="#b5022c"/>
<circle cx="478.4" cy="331.8" r="4.3" fill="#b5022c"/>
<circle cx="482.9" cy="330.2" r="4.3" fill="#b5022c"/>
<circle cx="486.2" cy="336.9" r="4.3" fill="#b5022c"/>
<circle cx="491.8" cy="331.3" r="4.3" fill="#b5022c"/>
<circle cx="494.0" cy="338.5" r="4.3" fill="#b5022c"/>
<circle cx="497.4" cy="335.7" r="4.3" fill="#b5022c"/>
<circle cx="501.8" cy="339.6" r="4.3" fill="#b5022c"/>
<circle cx="506.3" cy="333.5" r="4.3" fill="#b5022c"/>
<circle cx="509.6" cy="338.5" r="4.3" fill="#b5022c"/>
<text x="324.5" y="280.0" text-anchor="middle" class="t15">20</text>
<text x="350.7" y="280.0" text-anchor="middle" class="t15">30</text>
<text x="377.0" y="280.0" text-anchor="middle" class="t15">40</text>
<text x="403.2" y="280.0" text-anchor="middle" class="t15">50</text>
<text x="429.4" y="280.0" text-anchor="middle" class="t15">60</text>
<text x="455.7" y="280.0" text-anchor="middle" class="t15">70</text>
<text x="481.9" y="280.0" text-anchor="middle" class="t15">80</text>
<text x="508.2" y="280.0" text-anchor="middle" class="t15">90</text>
<text x="534.4" y="280.0" text-anchor="middle" class="t15">100</text>
<text x="281.0" y="198.3" class="b185">D</text>
<text x="486.5" y="217.7" class="t15" letter-spacing="0.30">rhHPX</text>
<text x="499.0" y="248.2" class="b168">T, <tspan class="sup" dy="-6">o</tspan><tspan dy="6">C</tspan></text>
<text transform="translate(292.4,321.0) rotate(-90)" class="b163">CE at 231 nm</text>
</svg>
</body></html>
